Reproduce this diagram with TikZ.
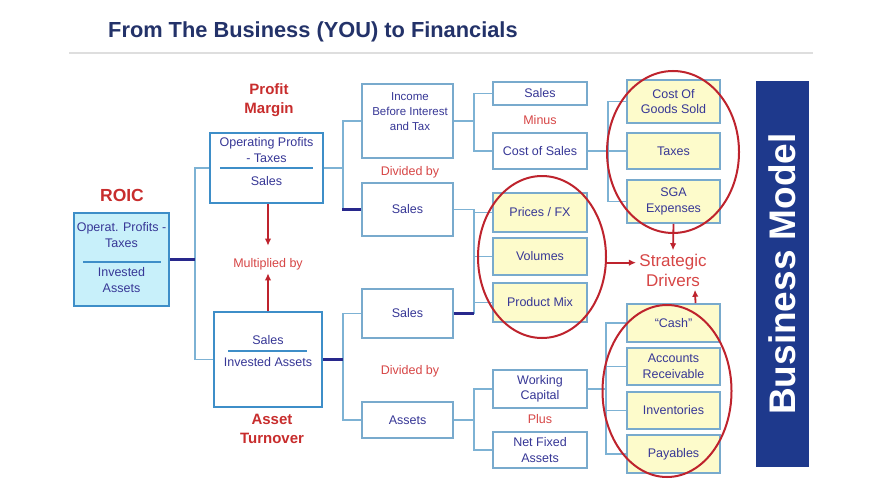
\documentclass[tikz,border=0pt]{standalone}
\usepackage{fontspec}
\setmainfont{Liberation Sans}
\usepackage{tikz}
\usetikzlibrary{arrows.meta}
\usetikzlibrary{shapes.geometric}
\usepackage{color}
\definecolor{TitleBlue}{RGB}{35,50,105}
\definecolor{RuleGray}{RGB}{222,222,222}
\definecolor{BoxLine}{RGB}{120,170,205}
\definecolor{MainLine}{RGB}{62,142,200}
\definecolor{RoicFill}{RGB}{200,240,250}
\definecolor{YellowFill}{RGB}{253,251,203}
\definecolor{ConnBlue}{RGB}{125,178,212}
\definecolor{ConnDark}{RGB}{40,40,140}
\definecolor{BoxText}{RGB}{55,55,150}
\definecolor{LabelRed}{RGB}{215,70,70}
\definecolor{BoldRed}{RGB}{200,45,45}
\definecolor{RingRed}{RGB}{190,35,45}
\definecolor{BannerBlue}{RGB}{30,57,140}
\tikzset{ plain/.style ={draw=BoxLine,  line width=1.6pt, fill=white,      text=BoxText, align=center, inner sep=1pt, font=\fontsize{12.5}{15.5}\selectfont} }
\tikzset{ drv/.style   ={draw=BoxLine,  line width=1.6pt, fill=YellowFill, text=BoxText, align=center, inner sep=1pt, font=\fontsize{12.5}{15.5}\selectfont} }
\tikzset{ ratio/.style ={draw=MainLine, line width=2.6pt, fill=white                                                                                     } }
\tikzset{ boxtxt/.style={text=BoxText, align=center, inner sep=1pt, font=\fontsize{12.5}{15.5}\selectfont} }
\tikzset{ opword/.style={text=LabelRed, font=\fontsize{12.5}{15}\selectfont} }
\tikzset{ bigred/.style={text=BoldRed, align=center, font=\bfseries\fontsize{15}{19}\selectfont} }
\tikzset{ ring/.style  ={draw=RingRed, line width=2pt, ellipse, inner sep=0pt} }
\tikzset{ conn/.style  ={draw=ConnBlue, line width=1.8pt} }
\tikzset{ conndk/.style={draw=ConnDark, line width=2.2pt} }
\tikzset{ redarr/.style={draw=RingRed, line width=1.8pt, ->, >={Latex[length=7pt,width=6.5pt]}} }
\tikzset{ fracln/.style={draw=MainLine, line width=2pt} }

\begin{document}
\begin{tikzpicture}[x=1pt, y=-1pt]
    \useasboundingbox[fill=white] (0,0) rectangle (888,500);

    \node[anchor=base west, text=TitleBlue, inner sep=0pt, font=\bfseries\fontsize{21.8}{24}\selectfont] (title) at (108,38) {From The Business (YOU) to Financials};
    \draw[draw=RuleGray, line width=2pt] (69,53.5) -- (813,53.5);

    \node[ratio, fill=RoicFill, minimum width=95, minimum height=93] (c0_n0) at (121.5,259.5) {};
    \node[boxtxt] (c0_n0_num) at (121.5,235) {Operat. Profits -\\Taxes};
    \draw[fracln] (83,262) -- (161,262);
    \node[boxtxt] (c0_n0_den) at (121.5,280) {Invested\\Assets};
    \node[bigred, font=\bfseries\fontsize{17.5}{20}\selectfont] (roic) at (122,195) {ROIC};

    \node[ratio, minimum width=113, minimum height=70] (c1_n0) at (266.5,168) {};
    \node[boxtxt] (c1_n0_num) at (266.5,150) {Operating Profits\\- Taxes};
    \draw[fracln] (220,168) -- (313,168);
    \node[boxtxt] (c1_n0_den) at (266.5,181) {Sales};
    \node[bigred] (pmargin) at (269,100) {Profit\\Margin};

    \node[ratio, minimum width=108, minimum height=95] (c1_n1) at (268,359.5) {};
    \node[boxtxt] (c1_n1_num) at (268,340) {Sales};
    \draw[fracln] (228,351) -- (307,351);
    \node[boxtxt] (c1_n1_den) at (268,362) {Invested Assets};
    \node[bigred] (aturn) at (272,429) {Asset\\Turnover};

    \node[opword] (mult) at (268,264) {Multiplied by};

    \node[plain, minimum width=91, minimum height=74] (c2_n0) at (407.5,121) {};
    \node[boxtxt, font=\fontsize{11.5}{15}\selectfont] (c2_n0_txt) at (410,112) {Income\\Before Interest\\and Tax};
    \node[plain, minimum width=91, minimum height=53] (c2_n1) at (407.5,209.5) {Sales};
    \node[plain, minimum width=91, minimum height=49] (c2_n2) at (407.5,313.5) {Sales};
    \node[plain, minimum width=91, minimum height=36] (c2_n3) at (407.5,420) {Assets};
    \node[opword] (divA) at (410,172) {Divided by};
    \node[opword] (divB) at (410,371) {Divided by};

    \node[plain, minimum width=94, minimum height=23] (c3_n0) at (540,93.5) {Sales};
    \node[plain, minimum width=94, minimum height=36] (c3_n1) at (540,151) {Cost of Sales};
    \node[drv,   minimum width=94, minimum height=39] (c3_n2) at (540,212.5) {Prices / FX};
    \node[drv,   minimum width=94, minimum height=37] (c3_n3) at (540,256.5) {Volumes};
    \node[drv,   minimum width=94, minimum height=39] (c3_n4) at (540,302.5) {Product Mix};
    \node[plain, minimum width=94, minimum height=38] (c3_n5) at (540,389) {Working\\Capital};
    \node[plain, minimum width=94, minimum height=36] (c3_n6) at (540,450) {Net Fixed\\Assets};
    \node[opword] (minus) at (540,120) {Minus};
    \node[opword] (plus)  at (540,419) {Plus};

    \node[drv, minimum width=93, minimum height=43] (c4_n0) at (673.5,101.5) {Cost Of\\Goods Sold};
    \node[drv, minimum width=93, minimum height=36] (c4_n1) at (673.5,151)   {Taxes};
    \node[drv, minimum width=93, minimum height=43] (c4_n2) at (673.5,201.5) {SGA\\Expenses};
    \node[drv, minimum width=93, minimum height=38] (c4_n3) at (673.5,323)   {``Cash''};
    \node[drv, minimum width=93, minimum height=37] (c4_n4) at (673.5,366.5) {Accounts\\Receivable};
    \node[drv, minimum width=93, minimum height=37] (c4_n5) at (673.5,410.5) {Inventories};
    \node[drv, minimum width=93, minimum height=38] (c4_n6) at (673.5,454)   {Payables};

    \node[text=LabelRed, align=center, font=\fontsize{17}{20}\selectfont] (strat) at (673,270) {Strategic\\Drivers};

    \draw[conn] (c0_n0.east) -- ++(25,0) |- (c1_n0.west);
    \draw[conn] (c0_n0.east) -- ++(25,0) |- (c1_n1.west);
    \draw[conndk] (c0_n0.east) -- ++(25,0);

    \draw[conn] (c1_n0.east) -- ++(19,0) |- (c2_n0.west);
    \draw[conn] (c1_n0.east) -- ++(19,0) |- (c2_n1.west);
    \draw[conndk] (c2_n1.west) -- ++(-19,0);
    \draw[conn] (c1_n1.east) -- ++(20,0) |- (c2_n2.west);
    \draw[conn] (c1_n1.east) -- ++(20,0) |- (c2_n3.west);
    \draw[conndk] (c1_n1.east) -- ++(20,0);

    \draw[conn] (c2_n0.east) -- ++(20,0) |- (c3_n0.west);
    \draw[conn] (c2_n0.east) -- ++(20,0) |- (c3_n1.west);
    \draw[conn] (c2_n1.east) -- ++(20,0) |- (c3_n2.west);
    \draw[conn] (c2_n1.east) -- ++(20,0) |- (c3_n3.west);
    \draw[conn] (c2_n1.east) -- ++(20,0) |- (c3_n4.west);
    \draw[conn] (c2_n2.east) -- ++(20,0) |- (c3_n4.west);
    \draw[conndk] (c2_n2.east) -- ++(20,0);
    \draw[conn] (c2_n3.east) -- ++(20,0) |- (c3_n5.west);
    \draw[conn] (c2_n3.east) -- ++(20,0) |- (c3_n6.west);

    \draw[conn] (c3_n1.east) -- ++(20,0) |- (c4_n0.west);
    \draw[conn] (c3_n1.east) -- ++(20,0) |- (c4_n1.west);
    \draw[conn] (c3_n1.east) -- ++(20,0) |- (c4_n2.west);
    \draw[conn] (c3_n5.east) -- ++(18,0) |- (c4_n3.west);
    \draw[conn] (c3_n5.east) -- ++(18,0) |- (c4_n4.west);
    \draw[conn] (c3_n5.east) -- ++(18,0) |- (c4_n5.west);
    \draw[conn] (c3_n5.east) -- ++(18,0) |- (c4_n6.west);

    \node[ring, minimum width=132, minimum height=162] (e0) at (673,152) {};
    \node[ring, minimum width=128, minimum height=162] (e1) at (542,257) {};
    \node[ring, minimum width=129, minimum height=172] (e2) at (667,391) {};

    \draw[redarr, shorten >=9pt] (mult.north |- c1_n0.south) -- (mult.north);
    \draw[redarr] (mult.south |- c1_n1.north) -- (mult.south);
    \draw[redarr] (c4_n2.south) -- (strat.north);
    \draw[redarr] (e1.-5) -- (e1.-5 -| strat.west);
    \draw[redarr] ([xshift=22pt]c4_n3.north) -- ([xshift=22pt]strat.south);

    \node[fill=BannerBlue, text=white, rotate=90, minimum width=386, minimum height=53, font=\bfseries\fontsize{37}{40}\selectfont] (banner) at (782,274) {Business Model};
  \end{tikzpicture}
\end{document}
